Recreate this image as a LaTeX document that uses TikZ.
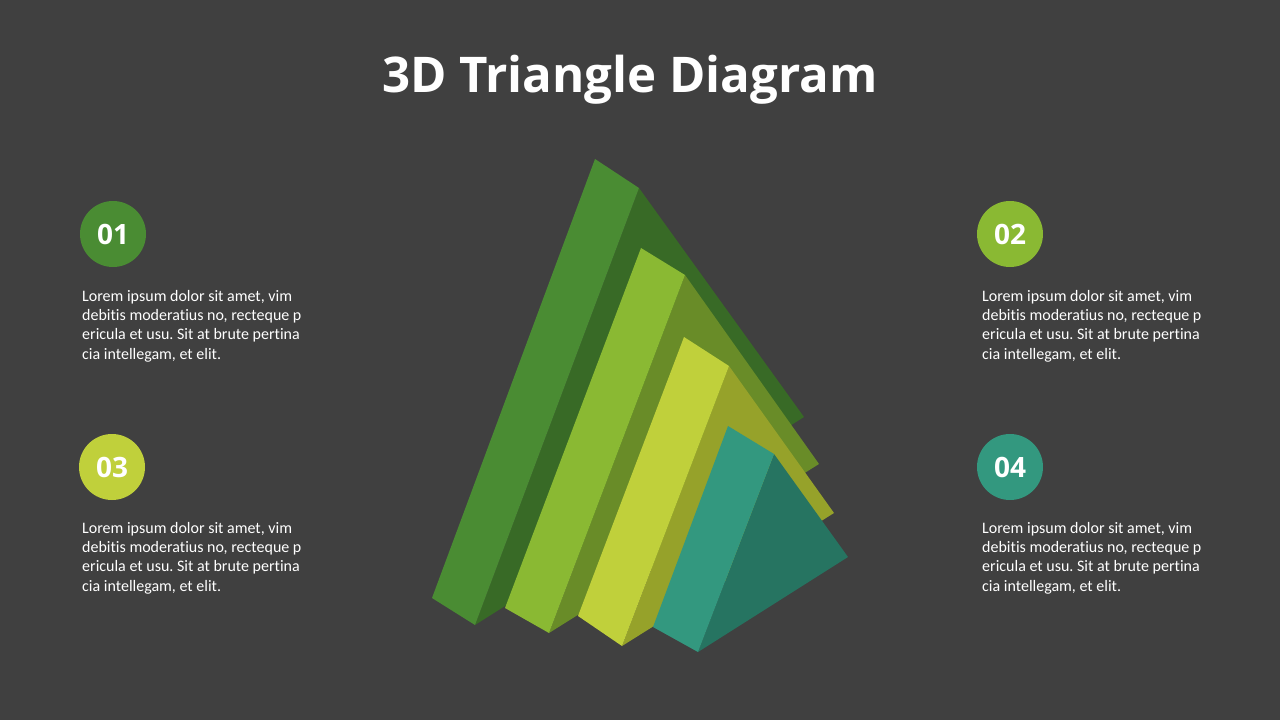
\documentclass[tikz,border=0pt]{standalone}
\usepackage{fontspec}
\setmainfont{Carlito}[Ligatures={NoCommon}]
\newfontfamily\titlefont{Open Sans}
\usetikzlibrary{positioning}
\frenchspacing

\definecolor{bgcol}{HTML}{404040}
\definecolor{greenA}{HTML}{4A8C33}
\definecolor{greenAside}{HTML}{386A26}
\definecolor{greenB}{HTML}{8AB933}
\definecolor{greenBside}{HTML}{698C28}
\definecolor{limeC}{HTML}{C0D03B}
\definecolor{limeCside}{HTML}{96A22A}
\definecolor{tealD}{HTML}{33987F}
\definecolor{tealDside}{HTML}{267461}

\tikzset{
  badge/.style={circle, minimum size=66pt, inner sep=0pt, text=white,
    font=\titlefont\bfseries\fontsize{28}{28}\selectfont},
  blurb/.style={anchor=north west, inner sep=0pt, align=left, text=white,
    font=\fontsize{16}{19.3}\selectfont}
}

\begin{document}
\begin{tikzpicture}[x=1pt,y=-1pt]

%Background
\fill [bgcol] (0,0) rectangle (1280,720);

%Title
\node [text=white, font=\titlefont\bfseries\fontsize{49.2}{49.2}\selectfont] (title) at (630,80) {3D Triangle Diagram};

%Bar 1
\fill [greenAside] (639,188) -- (804,417) -- (475,625) -- cycle;
\fill [greenA] (595,159) -- (639,188) -- (475,625) -- (432,598) -- cycle;

%Bar 2
\fill [greenBside] (685,275) -- (819,464) -- (549,633) -- cycle;
\fill [greenB] (641,248) -- (685,275) -- (549,633) -- (505,608) -- cycle;

%Bar 3
\fill [limeCside] (729,366) -- (834,513) -- (622,646) -- cycle;
\fill [limeC] (684,337) -- (729,366) -- (622,646) -- (578,616) -- cycle;

%Bar 4
\fill [tealDside] (774,454) -- (848,557) -- (698,652) -- cycle;
\fill [tealD] (728,426) -- (774,454) -- (698,652) -- (653,627) -- cycle;

%Badges
\node [badge, fill=greenA] (one) at (113,234) {01};
\node [badge, fill=greenB] (two) at (1010,234) {02};
\node [badge, fill=limeC] (three) at (112,467) {03};
\node [badge, fill=tealD] (four) at (1010,467) {04};

%Texts
\node [blurb] (textone) at (82,290) {Lorem ipsum dolor sit amet, vim\\debitis moderatius no, recteque p\\ericula et usu. Sit at brute pertina\\cia intellegam, et elit.};
\node [blurb] (texttwo) at (982,290) {Lorem ipsum dolor sit amet, vim\\debitis moderatius no, recteque p\\ericula et usu. Sit at brute pertina\\cia intellegam, et elit.};
\node [blurb] (textthree) at (82,522) {Lorem ipsum dolor sit amet, vim\\debitis moderatius no, recteque p\\ericula et usu. Sit at brute pertina\\cia intellegam, et elit.};
\node [blurb] (textfour) at (982,522) {Lorem ipsum dolor sit amet, vim\\debitis moderatius no, recteque p\\ericula et usu. Sit at brute pertina\\cia intellegam, et elit.};

\end{tikzpicture}
\end{document}
